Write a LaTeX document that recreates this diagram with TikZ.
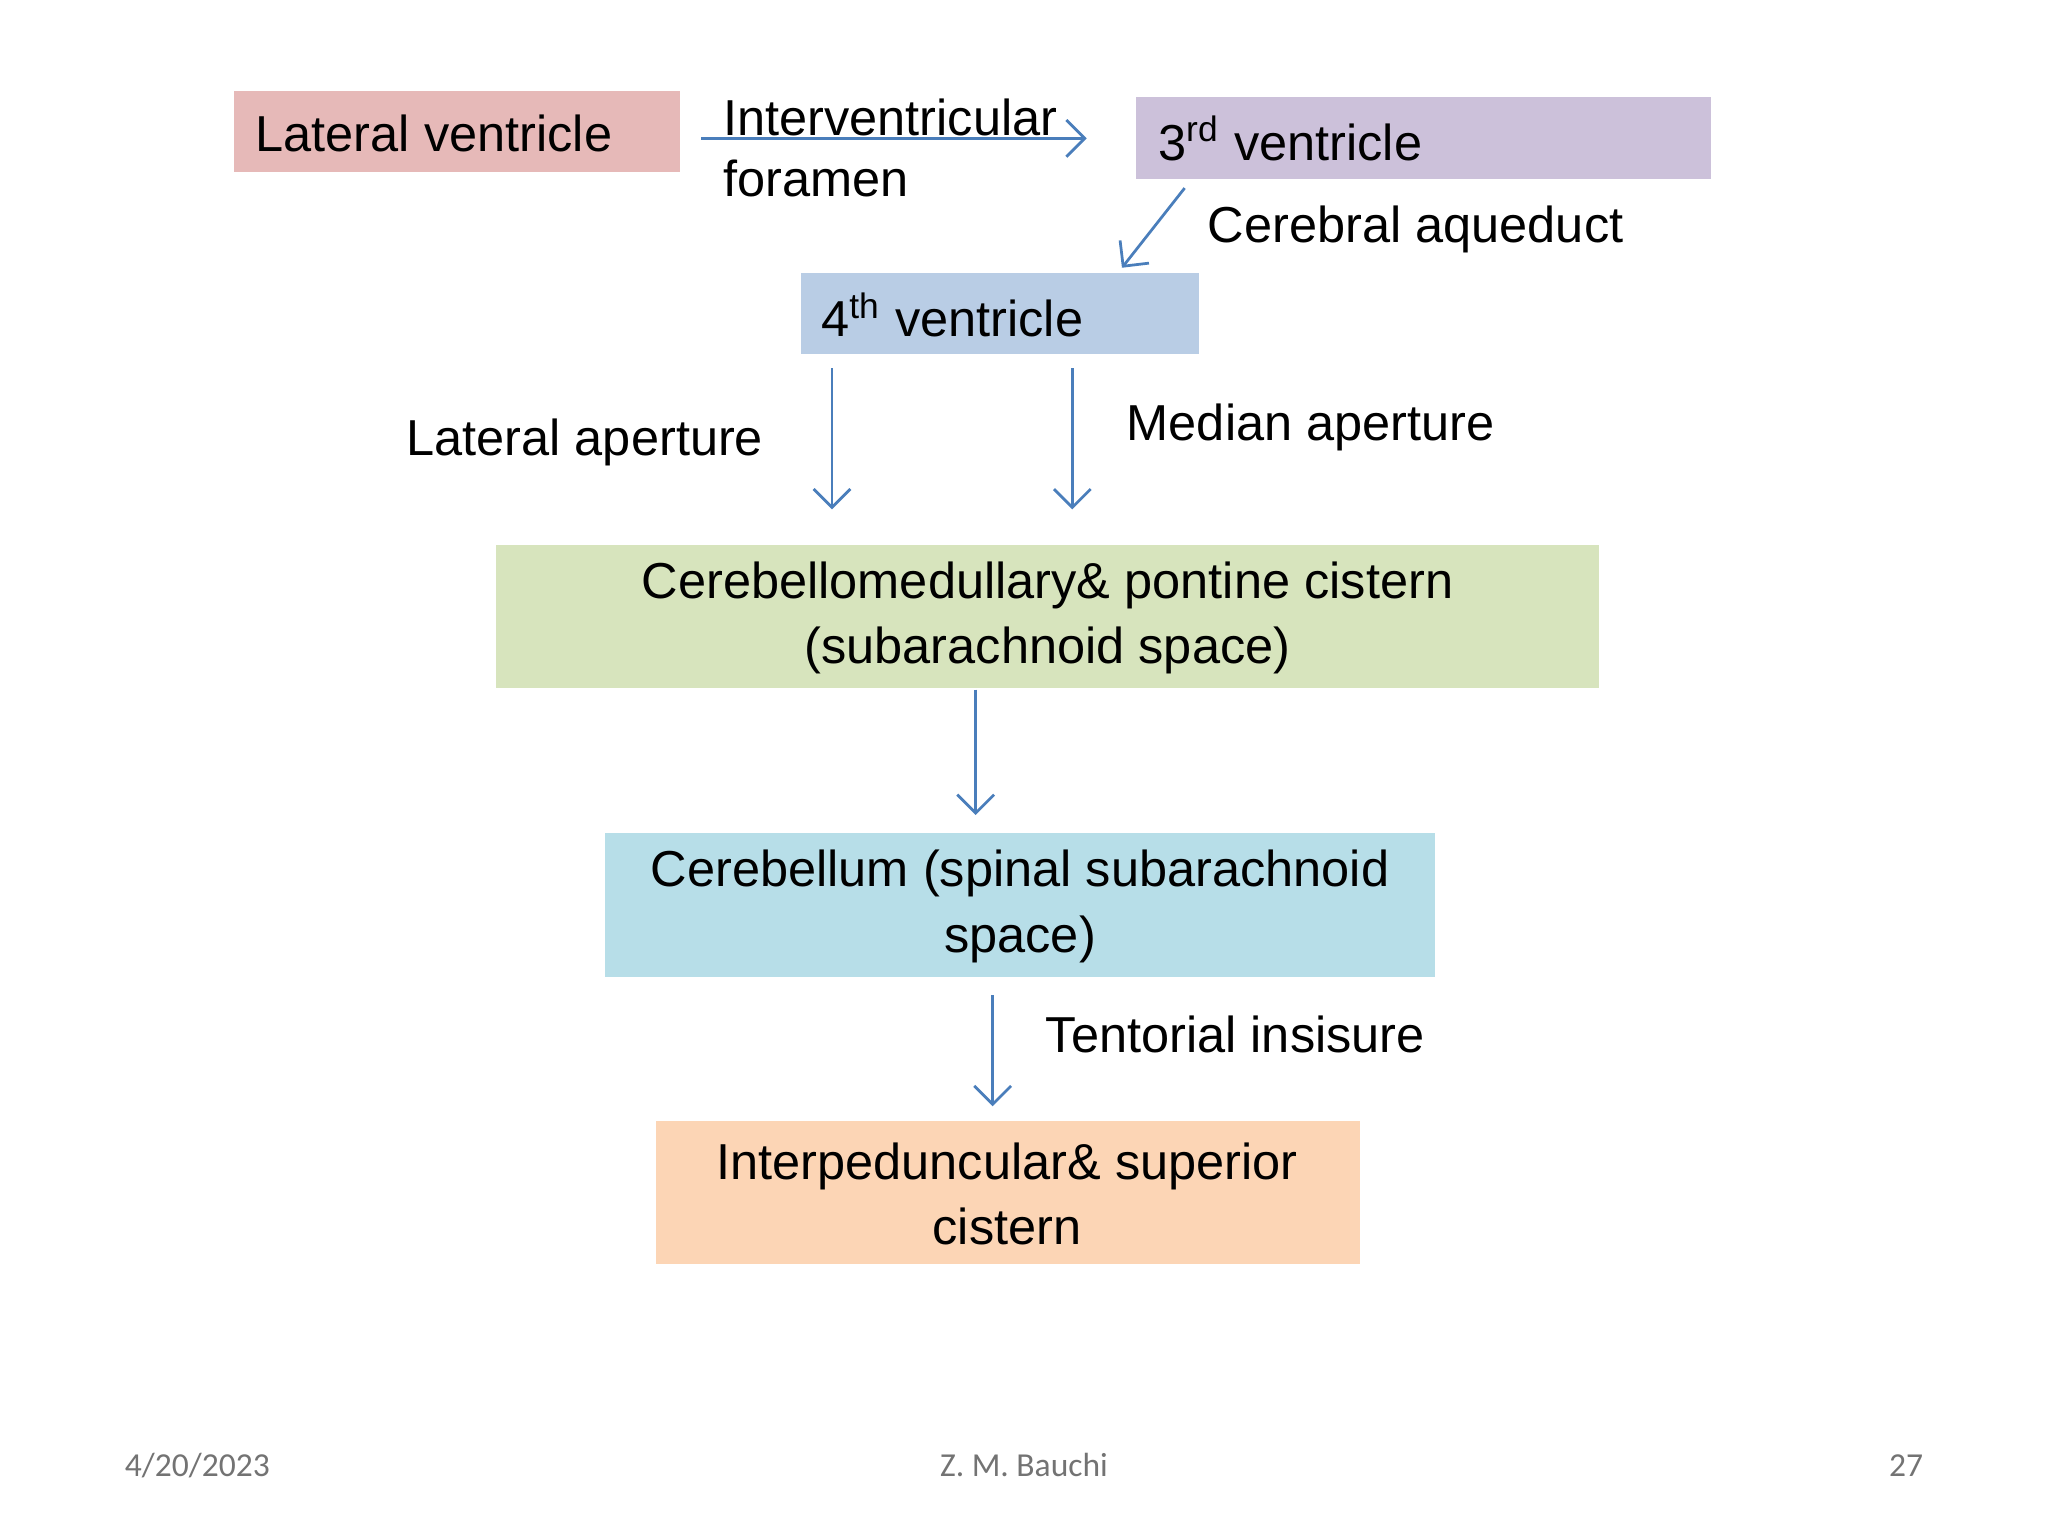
\documentclass[tikz,border=0pt]{standalone}
\usepackage{fontspec}
\setmainfont{Liberation Sans}
\newfontfamily\footfont{Carlito}
\usetikzlibrary{arrows.meta}
\definecolor{flow}{HTML}{4A7EBB}
\definecolor{cpink}{HTML}{E6B9B8}
\definecolor{cpurple}{HTML}{CCC1DA}
\definecolor{cblue}{HTML}{B9CDE5}
\definecolor{cgreen}{HTML}{D7E4BD}
\definecolor{ccyan}{HTML}{B7DEE8}
\definecolor{corange}{HTML}{FCD5B5}
\begin{document}
\begin{tikzpicture}[x=0.01cm,y=-0.01cm,
    box/.style={inner sep=0pt},
    txt/.style={font=\fontsize{11pt}{13.4pt}\selectfont, inner sep=0pt},
    flowarrow/.style={draw=flow, line width=0.6pt, -{Straight Barb[length=4pt,width=8pt]}},
    foot/.style={font=\footfont\fontsize{7.3pt}{9pt}\selectfont, text=black!55, inner sep=0pt}
  ]
  \useasboundingbox (0,0) rectangle (1568,1176);
  % boxes
  \fill[cpink]   (179,70)  rectangle (521,132);
  \fill[cpurple] (870,74)  rectangle (1310,137);
  \fill[cblue]   (613,209) rectangle (918,271);
  \fill[cgreen]  (380,417) rectangle (1224,527);
  \fill[ccyan]   (463,638) rectangle (1099,748);
  \fill[corange] (502,858) rectangle (1041,968);
  % box texts
  \node[txt, anchor=west] (lv) at (195,102) {Lateral ventricle};
  \node[txt, anchor=west] (v3) at (886,106) {3\textsuperscript{rd} ventricle};
  \node[txt, anchor=west] (v4) at (628,241) {4\textsuperscript{th} ventricle};
  \node[txt, align=center] (cm) at (802,473) {Cerebellomedullary\& pontine cistern\\[0.9pt](subarachnoid space)};
  \node[txt, align=center] (cb) at (781,694) {Cerebellum (spinal subarachnoid\\[0.9pt]space)};
  \node[txt, align=center] (ip) at (771,914) {Interpeduncular\& superior\\[0.9pt]cistern};
  % labels
  \node[txt, anchor=west] (l1) at (553,90) {Interventricular};
  \node[txt, anchor=west] (l2) at (553,137) {foramen};
  \node[txt, anchor=west] (l3) at (924,176) {Cerebral aqueduct};
  \node[txt, anchor=east] (l4) at (585,339) {Lateral aperture};
  \node[txt, anchor=west] (l5) at (862,327) {Median aperture};
  \node[txt, anchor=west] (l6) at (800,792) {Tentorial insisure};
  % arrow end points
  \coordinate (a1) at (537,106); \coordinate (b1) at (832,106);
  \coordinate (a2) at (907,144); \coordinate (b2) at (859,205);
  \coordinate (a3) at (637,282); \coordinate (b3) at (637,390);
  \coordinate (a4) at (821,282); \coordinate (b4) at (821,390);
  \coordinate (a5) at (747,528); \coordinate (b5) at (747,624);
  \coordinate (a6) at (760,762); \coordinate (b6) at (760,847);
  \foreach \i in {1,...,6} \draw[flowarrow] (a\i) -- (b\i);
  % footer
  \node[foot, anchor=west] (f1) at (95,1122) {4/20/2023};
  \node[foot] (f2) at (784,1122) {Z. M. Bauchi};
  \node[foot, anchor=east] (f3) at (1473,1122) {27};
\end{tikzpicture}
\end{document}
